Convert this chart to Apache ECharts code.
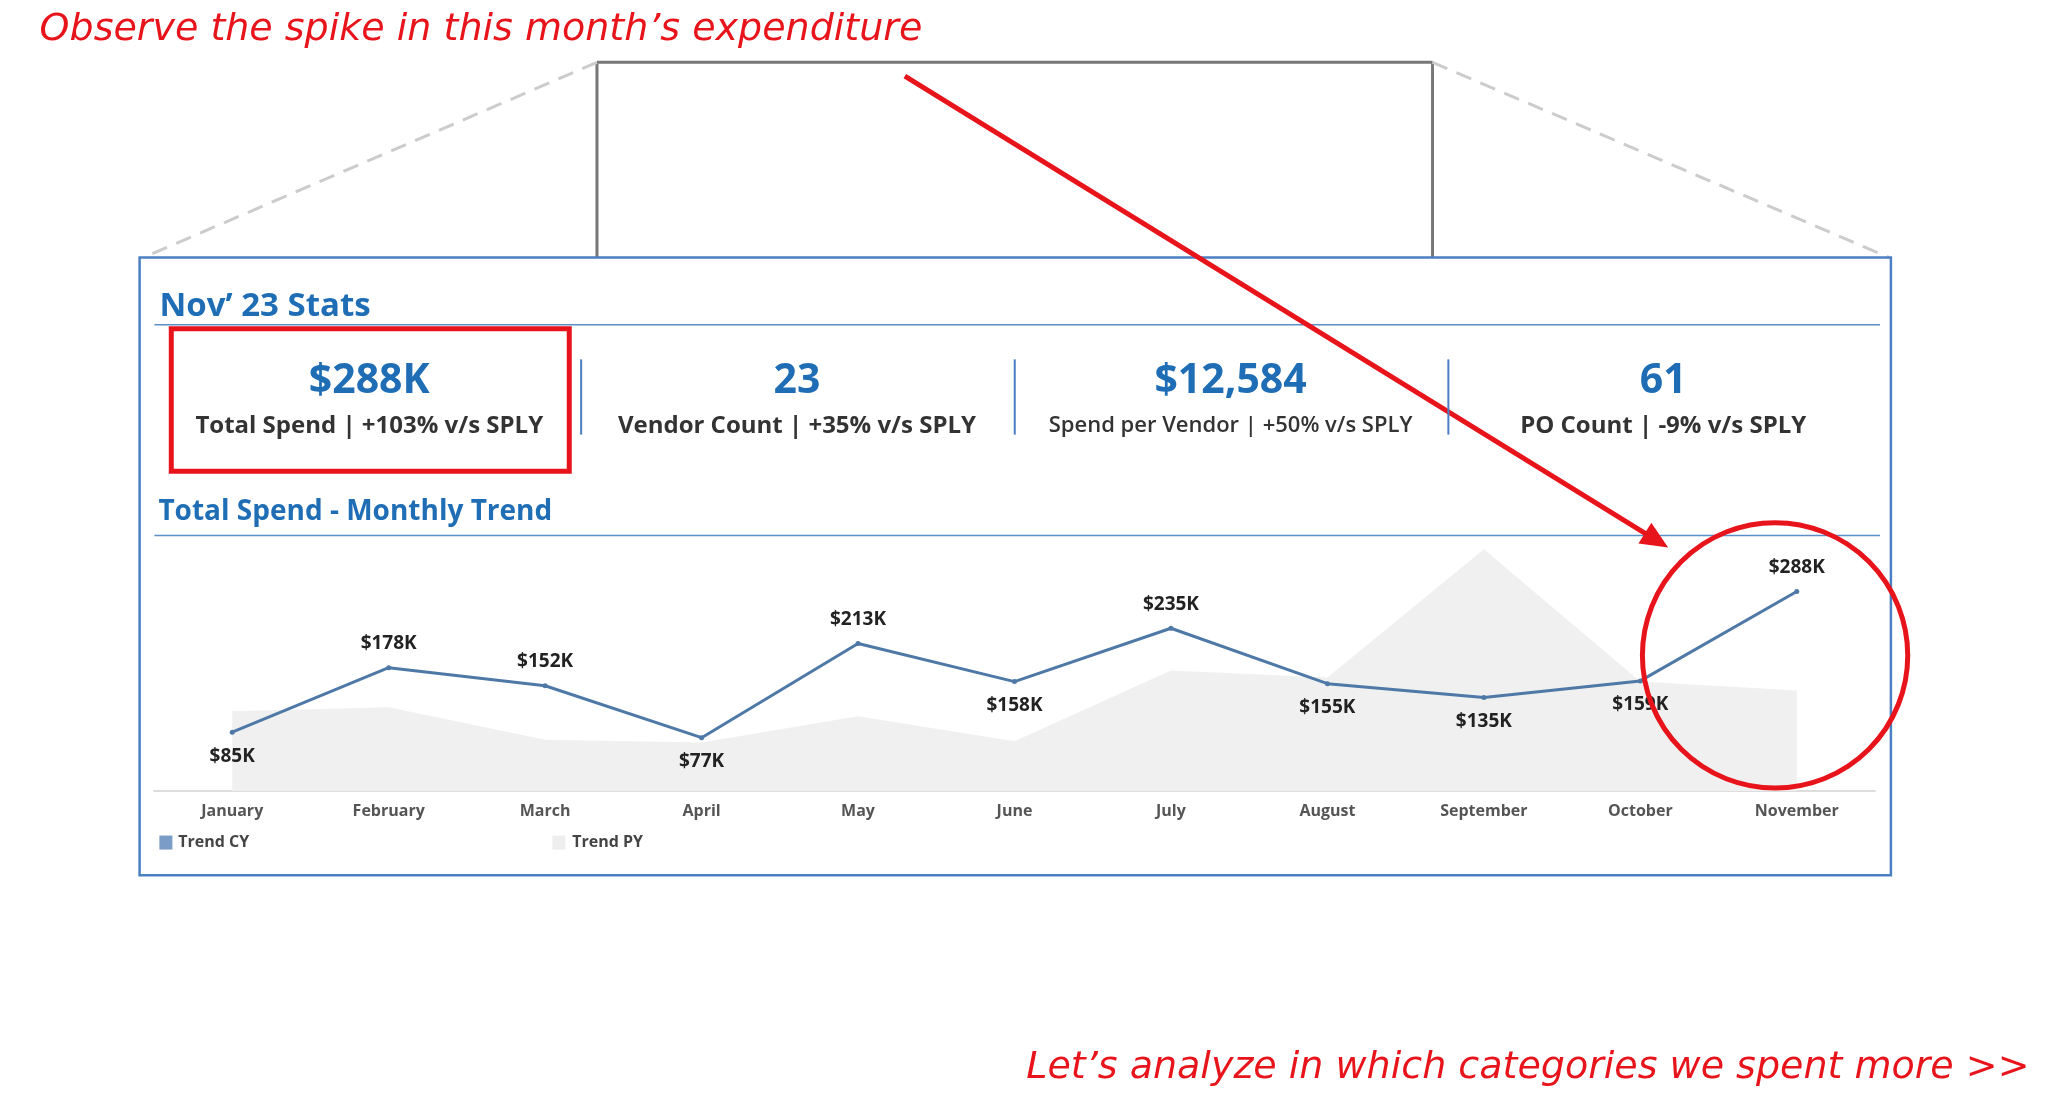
<!DOCTYPE html><html><head><meta charset="utf-8"><script src="https://cdn.jsdelivr.net/npm/echarts@6/dist/echarts.min.js"></script>
<style>html,body{margin:0;background:#fff}#c{width:2048px;height:1118px}</style></head><body><div id="c"></div><script>
const months=['January','February','March','April','May','June','July','August','September','October','November'];
const trendCY=[85,178,152,77,213,158,235,155,135,159,288];
const trendPY=[115,121,74,70,108,72,174,164,349,158,145];
const labelBelow=[true,false,false,true,false,true,false,true,true,true,false];
const kpiValues=['$288K','23','$12,584','61'];
const kpiLabels=['Total Spend | +103% v/s SPLY','Vendor Count | +35% v/s SPLY','Spend per Vendor | +50% v/s SPLY','PO Count | -9% v/s SPLY'];
const blue='#1f6eb5', red='#e8141b', hand='"DejaVu Sans", sans-serif';
const k=0.99, s=v=>v*k;
const ch=echarts.init(document.getElementById('c'));
const kpiX=[373,805,1243,1680];
const L=(x1,y1,x2,y2,st)=>({type:'line',shape:{x1:s(x1),y1:s(y1),x2:s(x2),y2:s(y2)},style:st});
const T=(x,y,text,st)=>({type:'text',x:s(x),y:s(y),style:Object.assign({text:text,textVerticalAlign:'middle'},st)});
const g=[
 L(603,63,1447,63,{stroke:'#777',lineWidth:3}),
 L(603,63,603,260,{stroke:'#777',lineWidth:3}),
 L(1447,63,1447,260,{stroke:'#777',lineWidth:3}),
 L(603,63,145,260,{stroke:'#ccc',lineWidth:3,lineDash:[16,10]}),
 L(1447,63,1908,260,{stroke:'#ccc',lineWidth:3,lineDash:[16,10]}),
 {type:'rect',shape:{x:s(141),y:s(260),width:s(1769),height:s(624)},style:{fill:'none',stroke:'#4a7fc1',lineWidth:2.5}},
 T(161,310,"Nov’ 23 Stats",{fill:blue,font:'bold 33px "Open Sans", sans-serif'}),
 L(156,328,1899,328,{stroke:'#5b8fc7',lineWidth:1.5}),
 T(160,517,'Total Spend - Monthly Trend',{fill:blue,font:'bold 28px "Open Sans", sans-serif'}),
 L(156,541,1899,541,{stroke:'#5b8fc7',lineWidth:1.5}),
 {type:'rect',shape:{x:s(173),y:s(332),width:s(402),height:s(144)},style:{fill:'none',stroke:red,lineWidth:5}},
 {type:'rect',shape:{x:s(161),y:s(844),width:13,height:14},style:{fill:'#7a9cc6'}},
 T(180,851,'Trend CY',{fill:'#444',font:'bold 16px "Open Sans", sans-serif'}),
 {type:'rect',shape:{x:s(558),y:s(844),width:13,height:14},style:{fill:'#eee'}},
 T(578,851,'Trend PY',{fill:'#444',font:'bold 16px "Open Sans", sans-serif'}),
 T(40,30,'Observe the spike in this month’s expenditure',{fill:red,font:'italic 38px '+hand}),
 T(2050,1079,'Let’s analyze in which categories we spent more >>',{fill:red,font:'italic 38px '+hand,textAlign:'right'}),
 L(914,77,1672,545,{stroke:red,lineWidth:5}),
 {type:'polygon',shape:{points:[[s(1685),s(553)],[s(1655),s(549)],[s(1668),s(528)]]},style:{fill:red}},
 {type:'circle',shape:{cx:s(1793),cy:s(662),r:s(134)},style:{fill:'none',stroke:red,lineWidth:5}}
];
[587,1025,1463].forEach(x=>g.push(L(x,363,x,439,{stroke:'#4a7fc1',lineWidth:2})));
kpiX.forEach((x,i)=>{
 g.push(T(x,385,kpiValues[i],{fill:blue,font:'bold 41px "Open Sans", sans-serif',textAlign:'center'}));
 g.push(T(x,430,kpiLabels[i],{fill:'#333',font:(i==2?'600 22px':'bold 24px')+' "Open Sans", sans-serif',textAlign:'center'}));
});
g.forEach(e=>e.z=100);
ch.setOption({
 animation:false,
 grid:{left:154,right:173,top:514,bottom:327},
 xAxis:{type:'category',data:months,boundaryGap:true,axisTick:{show:false},axisLine:{lineStyle:{color:'#ddd',width:2}},axisLabel:{color:'#555',fontSize:16,fontWeight:'bold',fontFamily:'"Open Sans", sans-serif',margin:12}},
 yAxis:{type:'value',min:0,max:400,show:false,splitLine:{show:false}},
 series:[
  {name:'Trend PY',type:'line',data:trendPY,symbol:'none',lineStyle:{width:0},areaStyle:{color:'#f0f0f0',opacity:1},z:1},
  {name:'Trend CY',type:'line',data:trendCY.map((v,i)=>({value:v,label:{position:labelBelow[i]?'bottom':'top'}})),symbol:'circle',symbolSize:5,itemStyle:{color:'#4e79a7'},lineStyle:{color:'#4e79a7',width:3},z:3,
   label:{show:true,formatter:p=>'$'+p.value+'K',color:'#222',fontSize:19,fontWeight:'bold',fontFamily:'"Open Sans", sans-serif',distance:12}}
 ],
 graphic:g
});
</script></body></html>
